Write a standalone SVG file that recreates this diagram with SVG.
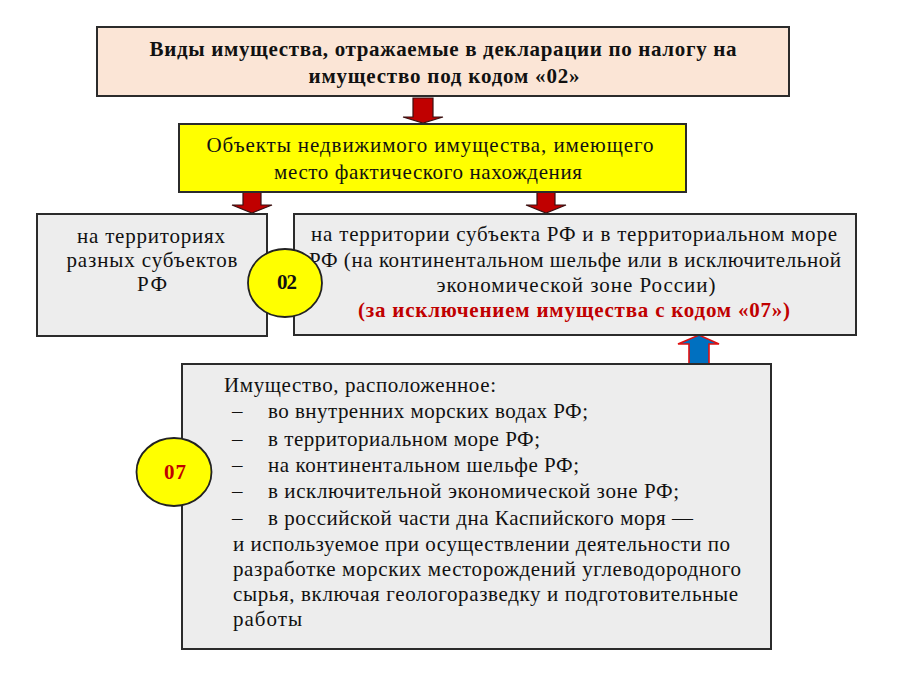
<svg xmlns="http://www.w3.org/2000/svg" width="900" height="679" viewBox="0 0 900 679">
<style>
.box{stroke:#2b2b2b;stroke-width:2}
.t{font-size:21px;fill:#111}
.b{font-weight:bold}
.c{text-anchor:middle}
.red{fill:#C00000}
.arr{fill:#C00000;stroke:#3a1010;stroke-width:1.2}
.up{fill:#0070C0;stroke:#E01010;stroke-width:1.6}
.circ{fill:#FFFF00;stroke:#222;stroke-width:1.8}
</style>
<rect width="900" height="679" fill="#fff"/>
<g id="connectors">
<path class="arr" d="M413,98 H433 V117 H443 L423,123 L403,117 H413 Z"/>
<path class="arr" d="M243,192 H261 V205 H272 L252,213 L232,205 H243 Z"/>
<path class="arr" d="M537,192 H555 V205 H566 L546,213 L526,205 H537 Z"/>
<path class="up" d="M689,364 V344 H678 L699,335 L719,344 H709 V364 Z"/>
</g>
<g font-family="'Liberation Serif', Tinos, 'Times New Roman', 'DejaVu Serif', serif">
<g id="node-top">
<rect class="box" x="97" y="27" width="692" height="69" fill="#FBE5D6"/>
<text class="t b c" x="443" y="56" textLength="587" lengthAdjust="spacing">Виды имущества, отражаемые в декларации по налогу на</text>
<text class="t b c" x="444" y="83" textLength="271" lengthAdjust="spacing">имущество под кодом «02»</text>
</g>
<g id="node-objects">
<rect class="box" x="179" y="124" width="507" height="68" fill="#FFFF00"/>
<text class="t c" x="430" y="152" textLength="447" lengthAdjust="spacing">Объекты недвижимого имущества, имеющего</text>
<text class="t c" x="428" y="179" textLength="308" lengthAdjust="spacing">место фактического нахождения</text>
</g>
<g id="node-left">
<rect class="box" x="37" y="214" width="230" height="122" fill="#EDEDED"/>
<text class="t c" x="151" y="243" textLength="148" lengthAdjust="spacing">на территориях</text>
<text class="t c" x="152" y="267" textLength="171" lengthAdjust="spacing">разных субъектов</text>
<text class="t c" x="152" y="291" textLength="30" lengthAdjust="spacing">РФ</text>
</g>
<g id="node-right">
<rect class="box" x="294" y="214" width="562" height="121" fill="#EDEDED"/>
<text class="t c" x="574" y="241" textLength="526" lengthAdjust="spacing">на территории субъекта РФ и в территориальном море</text>
<text class="t c" x="575" y="267" textLength="532" lengthAdjust="spacing">РФ (на континентальном шельфе или в исключительной</text>
<text class="t c" x="576" y="292" textLength="279" lengthAdjust="spacing">экономической зоне России)</text>
<text class="t b c red" x="574" y="317" textLength="432" lengthAdjust="spacing">(за исключением имущества с кодом «07»)</text>
</g>
<g id="node-02">
<ellipse class="circ" cx="285" cy="283" rx="37" ry="34"/>
<text class="t b c" x="287" y="289" textLength="20" lengthAdjust="spacing">02</text>
</g>
<g id="node-bottom">
<rect class="box" x="182" y="364" width="589" height="285" fill="#EDEDED"/>
<text class="t" x="224" y="392" textLength="272" lengthAdjust="spacing">Имущество, расположенное:</text>
<text class="t" x="232" y="418">–</text>
<text class="t" x="268" y="418" textLength="320" lengthAdjust="spacing">во внутренних морских водах РФ;</text>
<text class="t" x="232" y="446">–</text>
<text class="t" x="268" y="446" textLength="272" lengthAdjust="spacing">в территориальном море РФ;</text>
<text class="t" x="232" y="472">–</text>
<text class="t" x="268" y="472" textLength="311" lengthAdjust="spacing">на континентальном шельфе РФ;</text>
<text class="t" x="232" y="498">–</text>
<text class="t" x="268" y="498" textLength="411" lengthAdjust="spacing">в исключительной экономической зоне РФ;</text>
<text class="t" x="232" y="525">–</text>
<text class="t" x="268" y="525" textLength="425" lengthAdjust="spacing">в российской части дна Каспийского моря —</text>
<text class="t" x="233" y="551" textLength="497" lengthAdjust="spacing">и используемое при осуществлении деятельности по</text>
<text class="t" x="233" y="576" textLength="508" lengthAdjust="spacing">разработке морских месторождений углеводородного</text>
<text class="t" x="233" y="601" textLength="505" lengthAdjust="spacing">сырья, включая геологоразведку и подготовительные</text>
<text class="t" x="233" y="626" textLength="69" lengthAdjust="spacing">работы</text>
</g>
<g id="node-07">
<ellipse class="circ" cx="174" cy="472" rx="37.5" ry="34"/>
<text class="t b c red" x="175" y="479" textLength="22" lengthAdjust="spacing">07</text>
</g>
</g>
</svg>
